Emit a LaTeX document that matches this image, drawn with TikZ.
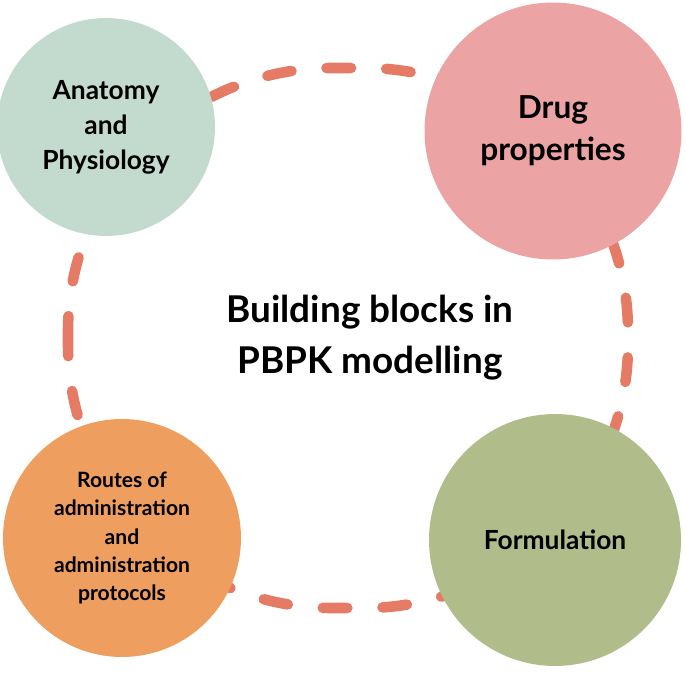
\documentclass[tikz,border=0pt]{standalone}
\usepackage{fontspec}
\setmainfont{Lato}
\usetikzlibrary{positioning}
\definecolor{anatcol}{HTML}{C3DACF}
\definecolor{drugcol}{HTML}{EBA3A3}
\definecolor{routecol}{HTML}{EE9E5E}
\definecolor{formcol}{HTML}{B1BC8B}
\definecolor{dashcol}{HTML}{E57B65}
\tikzset{block/.style={circle, draw=none, align=center, font=\bfseries, inner sep=0pt}}
\begin{document}
\begin{tikzpicture}[x=0.02cm,y=-0.02cm]
	\useasboundingbox (0,0) rectangle (685,676);
	% dashed loop
	\draw[dashcol, line width=6pt, line cap=round, dash pattern=on 14pt off 20pt, rounded corners=150pt]
		(68,68) rectangle (628,608);
	% the four blocks
	\node[block, fill=anatcol, minimum size=4.36cm, font=\bfseries\fontsize{15}{20}\selectfont] (anat) at (106,127) {Anatomy\\and\\Physiology};
	\node[block, fill=drugcol, minimum size=5.14cm, font=\bfseries\fontsize{18}{24}\selectfont] (drug) at (553,131) {Drug\\properties};
	\node[block, fill=routecol, minimum size=4.76cm, font=\bfseries\fontsize{12}{16}\selectfont] (route) at (122,538) {Routes of\\administration\\and\\administration\\protocols};
	\node[block, fill=formcol, minimum size=5.04cm, font=\bfseries\fontsize{15}{20}\selectfont] (form) at (555,540) {Formulation};
	% title
	\node[align=center, font=\bfseries\fontsize{21}{29}\selectfont] (title) at (370,338) {Building blocks in\\PBPK modelling};
\end{tikzpicture}
\end{document}
